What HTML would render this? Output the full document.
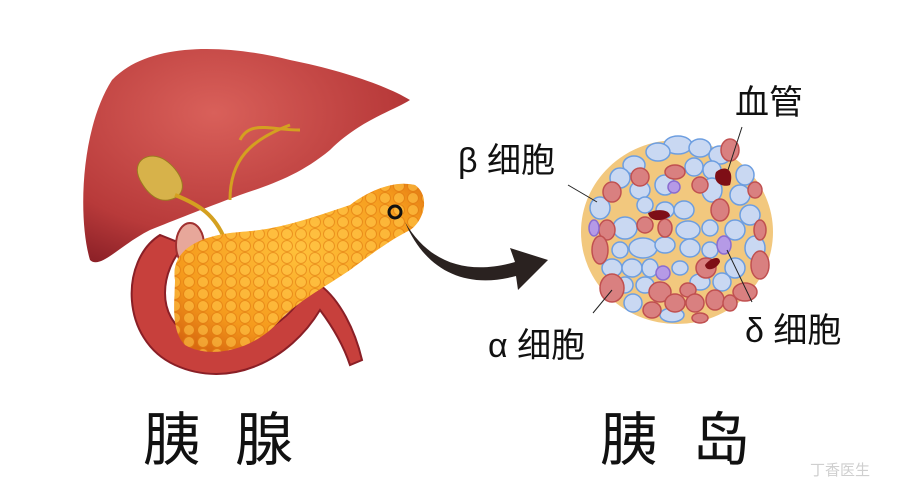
<!DOCTYPE html>
<html><head><meta charset="utf-8"><style>
body{margin:0;background:#fff}
svg{display:block}
text{font-family:"Liberation Sans","Noto Sans CJK SC",sans-serif;fill:#111}
</style></head><body>
<svg width="900" height="500" viewBox="0 0 900 500" xmlns="http://www.w3.org/2000/svg">
<defs>
<radialGradient id="lv" cx="0.4" cy="0.3" r="0.8"><stop offset="0" stop-color="#d9605a"/><stop offset="0.7" stop-color="#b83a3a"/><stop offset="1" stop-color="#8a1f26"/></radialGradient>
<radialGradient id="pc" cx="0.5" cy="0.4" r="0.7"><stop offset="0" stop-color="#ffc13a"/><stop offset="0.7" stop-color="#f59a1c"/><stop offset="1" stop-color="#d96a10"/></radialGradient>
<pattern id="dots" width="14" height="12" patternUnits="userSpaceOnUse"><circle cx="7" cy="6" r="5.5" fill="#ffc447" stroke="#e07a12" stroke-width="1"/></pattern>
</defs>
<path d="M160 235 C120 260 120 340 175 365 C230 390 290 360 320 310 C335 330 345 350 350 365 L362 360 C355 330 340 300 320 285 L300 300 C280 330 230 355 190 335 C155 318 160 270 185 245 Z" fill="#c7403c" stroke="#8a1f26" stroke-width="2"/>
<ellipse cx="190" cy="245" rx="14" ry="22" fill="#e7a79a" stroke="#a03030" stroke-width="2"/>
<path d="M112 80 C150 40 230 45 290 60 C340 70 385 85 410 100 C395 110 360 120 330 150 C300 175 270 185 240 195 C200 210 175 220 150 230 C120 245 100 270 90 260 C78 220 80 130 112 80 Z" fill="url(#lv)"/>
<path d="M240 140 C250 120 270 130 300 130" stroke="#d4a020" stroke-width="3" fill="none"/>
<path d="M230 200 C230 160 250 140 290 125" stroke="#d4a020" stroke-width="3" fill="none"/>
<path d="M140 180 C130 160 150 150 165 160 C180 170 190 190 175 198 C160 205 148 195 140 180Z" fill="#d7b24a" stroke="#9b7a20"/>
<path d="M175 195 C200 205 215 215 225 240" stroke="#d4a020" stroke-width="4" fill="none"/>
<path d="M175 280 C170 250 200 235 240 232 C280 230 320 215 350 205 C370 190 395 180 415 185 C430 195 425 220 410 230 C390 240 370 255 350 270 C320 290 300 300 280 320 C255 350 210 360 185 345 C170 330 175 300 175 280 Z" fill="url(#pc)"/>
<path d="M175 280 C170 250 200 235 240 232 C280 230 320 215 350 205 C370 190 395 180 415 185 C430 195 425 220 410 230 C390 240 370 255 350 270 C320 290 300 300 280 320 C255 350 210 360 185 345 C170 330 175 300 175 280 Z" fill="url(#dots)" opacity="0.6"/>
<circle cx="395" cy="212" r="6" fill="none" stroke="#111" stroke-width="3"/>
<path d="M405 222 C430 265 470 275 515 262 L510 248 L548 260 L518 290 L516 276 C465 290 425 270 405 222 Z" fill="#2a2220"/>
<ellipse cx="677" cy="232" rx="96" ry="92" fill="#f2c87e"/>
<g stroke-width="1.5">
<g fill="#c9d8f2" stroke="#6d9ee0">
<ellipse cx="678" cy="145" rx="14" ry="9"/><ellipse cx="700" cy="148" rx="11" ry="9"/><ellipse cx="658" cy="152" rx="12" ry="9"/><ellipse cx="720" cy="155" rx="11" ry="9"/>
<ellipse cx="634" cy="165" rx="11" ry="9"/><ellipse cx="694" cy="167" rx="9" ry="9"/><ellipse cx="712" cy="170" rx="9" ry="9"/>
<ellipse cx="620" cy="178" rx="10" ry="10"/><ellipse cx="640" cy="190" rx="10" ry="9"/><ellipse cx="665" cy="185" rx="10" ry="10"/><ellipse cx="712" cy="190" rx="10" ry="12"/><ellipse cx="740" cy="195" rx="10" ry="10"/><ellipse cx="745" cy="175" rx="9" ry="10"/>
<ellipse cx="600" cy="208" rx="10" ry="11"/><ellipse cx="645" cy="205" rx="8" ry="8"/><ellipse cx="665" cy="210" rx="9" ry="8"/><ellipse cx="684" cy="210" rx="10" ry="9"/><ellipse cx="750" cy="215" rx="10" ry="10"/>
<ellipse cx="625" cy="228" rx="12" ry="11"/><ellipse cx="688" cy="230" rx="12" ry="9"/><ellipse cx="710" cy="228" rx="8" ry="8"/><ellipse cx="735" cy="230" rx="10" ry="10"/>
<ellipse cx="620" cy="250" rx="8" ry="8"/><ellipse cx="643" cy="248" rx="14" ry="10"/><ellipse cx="665" cy="245" rx="10" ry="8"/><ellipse cx="690" cy="248" rx="10" ry="9"/><ellipse cx="755" cy="248" rx="10" ry="12"/><ellipse cx="710" cy="250" rx="8" ry="8"/>
<ellipse cx="612" cy="268" rx="10" ry="9"/><ellipse cx="632" cy="268" rx="10" ry="9"/><ellipse cx="650" cy="268" rx="8" ry="9"/><ellipse cx="680" cy="268" rx="8" ry="7"/><ellipse cx="735" cy="268" rx="10" ry="10"/>
<ellipse cx="625" cy="285" rx="8" ry="8"/><ellipse cx="645" cy="285" rx="9" ry="8"/><ellipse cx="700" cy="282" rx="10" ry="8"/><ellipse cx="722" cy="282" rx="9" ry="9"/>
<ellipse cx="633" cy="303" rx="9" ry="9"/><ellipse cx="672" cy="315" rx="12" ry="7"/>
</g>
<g fill="#d98080" stroke="#c05050">
<ellipse cx="640" cy="177" rx="9" ry="9"/><ellipse cx="612" cy="192" rx="9" ry="10"/><ellipse cx="675" cy="172" rx="10" ry="7"/><ellipse cx="720" cy="210" rx="9" ry="11"/>
<ellipse cx="700" cy="185" rx="8" ry="8"/><ellipse cx="730" cy="150" rx="9" ry="11"/><ellipse cx="755" cy="190" rx="7" ry="8"/>
<ellipse cx="607" cy="230" rx="8" ry="10"/><ellipse cx="645" cy="225" rx="8" ry="8"/><ellipse cx="665" cy="228" rx="7" ry="9"/>
<ellipse cx="600" cy="250" rx="8" ry="14"/><ellipse cx="688" cy="290" rx="8" ry="7"/><ellipse cx="706" cy="268" rx="10" ry="10"/>
<ellipse cx="760" cy="265" rx="9" ry="14"/><ellipse cx="745" cy="292" rx="12" ry="9"/>
<ellipse cx="612" cy="288" rx="12" ry="14"/><ellipse cx="660" cy="292" rx="11" ry="10"/><ellipse cx="675" cy="303" rx="10" ry="9"/><ellipse cx="695" cy="303" rx="9" ry="9"/><ellipse cx="715" cy="300" rx="9" ry="10"/><ellipse cx="652" cy="310" rx="9" ry="8"/><ellipse cx="730" cy="303" rx="7" ry="8"/><ellipse cx="700" cy="318" rx="8" ry="5"/>
<ellipse cx="760" cy="230" rx="6" ry="10"/>
</g>
<g fill="#b59ae6" stroke="#8a6cd0">
<ellipse cx="674" cy="187" rx="6" ry="6"/><ellipse cx="594" cy="228" rx="5" ry="8"/><ellipse cx="724" cy="245" rx="7" ry="9"/><ellipse cx="663" cy="273" rx="7" ry="7"/>
</g>
<g fill="#7e0e16" stroke="none">
<path d="M716 172 C724 165 735 168 730 185 C722 188 712 182 716 172Z"/>
<path d="M648 213 C658 208 670 210 670 216 C662 222 650 222 648 213Z"/>
<path d="M705 265 C710 258 720 255 720 262 C716 270 706 272 705 265Z"/>
</g>
</g>
<g stroke="#222" stroke-width="1">
<line x1="568" y1="185" x2="597" y2="202"/>
<line x1="742" y1="127" x2="728" y2="170"/>
<line x1="727" y1="250" x2="752" y2="302"/>
<line x1="593" y1="313" x2="612" y2="290"/>
</g>
<text x="458" y="172" font-size="34">β 细胞</text>
<text x="735" y="114" font-size="34">血管</text>
<text x="488" y="357" font-size="34">α 细胞</text>
<text x="745" y="342" font-size="34">δ 细胞</text>
<text x="143" y="460" font-size="58" word-spacing="18">胰 腺</text>
<text x="600" y="460" font-size="58" word-spacing="18">胰 岛</text>
<text x="810" y="475" font-size="15" style="fill:#cfcfcf">丁香医生</text>
</svg>
</body></html>
